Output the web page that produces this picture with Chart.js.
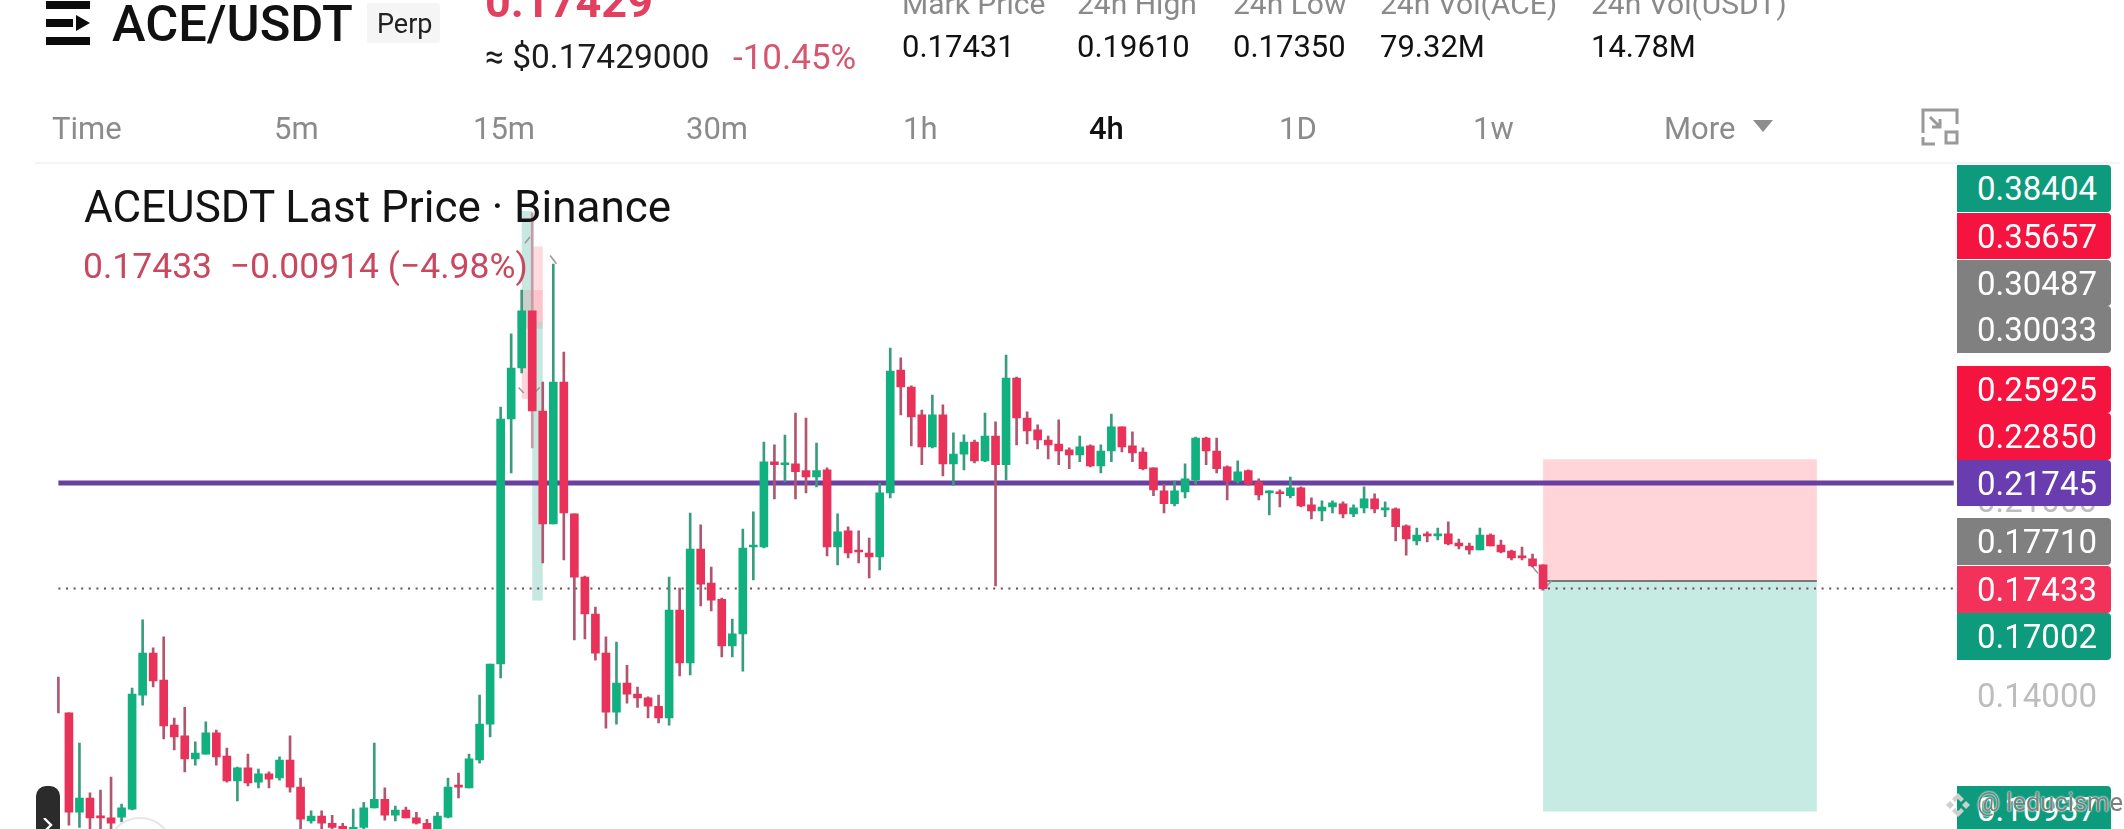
<!DOCTYPE html>
<html>
<head>
<meta charset="utf-8">
<title>ACE/USDT</title>
<script src="https://cdn.jsdelivr.net/npm/chart.js@4/dist/chart.umd.min.js"></script>
<style>
  html, body { margin: 0; padding: 0; background: #fff; width: 2124px; height: 829px; overflow: hidden; }
  body { position: relative; font-family: Roboto, sans-serif; }
  canvas { position: absolute; left: 0; top: 0; }
  .t { position: absolute; white-space: pre; line-height: 1; transform: translateY(-50%); }
  .tag { position: absolute; left: 1957px; width: 154px; border-radius: 0 4px 4px 0; color: #fff; font-size: 33px; box-sizing: border-box; padding-left: 20px; display: flex; align-items: center; }
  .abs { position: absolute; }
</style>
</head>
<body>
<canvas id="chart" width="2124" height="829"></canvas>
<div id="overlay"></div>
<script>
const opens = [
  .1344,.1344,.1092,.1125,.1083,.1079,.1081,.1099,.1395,.1523,
  .1440,.1310,.1281,.1221,.1233,.1289,.1228,.1166,.1198,.1163,
  .1183,.1173,.1218,.1151,.1072,.1083,.1067,.1060,.1041,.1058,
  .1102,.1122,.1085,.1097,.1079,.1067,.1047,.1081,.1156,.1149,
  .1218,.1313,.1489,.2486,.2766,.3117,.2528,.1996,.2686,.2038,
  .1786,.1653,.1523,.1346,.1431,.1398,.1387,.1363,.1330,.1667,
  .1492,.1894,.1764,.1705,.1546,.1586,.1902,.1902,.2273,.2259,
  .2263,.2231,.2202,.2235,.1902,.1967,.1886,.1878,.1863,.2130,
  .2754,.2658,.2507,.2345,.2507,.2263,.2310,.2369,.2277,.2399,
  .2259,.2708,.2491,.2430,.2379,.2359,.2330,.2306,.2350,.2254,
  .2325,.2445,.2350,.2320,.2244,.2139,.2082,.2134,.2188,.2389,
  .2325,.2249,.2183,.2231,.2179,.2130,.2130,.2117,.2152,.2077,
  .2051,.2068,.2082,.2038,.2064,.2103,.2055,.2060,.1988,.1926,
  .1955,.1946,.1955,.1918,.1906,.1890,.1950,.1910,.1886,.1863,
  .1855,.1832
];
const highs = [
  .1449,.1344,.1262,.1137,.1144,.1175,.1111,.1416,.1633,.1540,
  .1576,.1330,.1360,.1265,.1319,.1297,.1249,.1200,.1233,.1195,
  .1188,.1226,.1281,.1173,.1095,.1095,.1085,.1067,.1099,.1115,
  .1262,.1149,.1106,.1104,.1092,.1076,.1092,.1173,.1185,.1233,
  .1395,.1489,.2549,.2970,.3256,.3826,.2686,.3438,.2860,.2038,
  .1790,.1677,.1576,.1559,.1485,.1419,.1390,.1395,.1786,.1745,
  .2042,.1992,.1824,.1709,.1636,.1975,.2047,.2369,.2355,.2404,
  .2517,.2491,.2364,.2244,.2038,.1984,.1967,.1938,.2174,.2884,
  .2825,.2664,.2533,.2614,.2560,.2415,.2405,.2379,.2517,.2471,
  .2842,.2714,.2523,.2456,.2399,.2481,.2340,.2399,.2355,.2355,
  .2512,.2445,.2420,.2340,.2244,.2170,.2183,.2263,.2394,.2394,
  .2389,.2254,.2277,.2235,.2193,.2139,.2143,.2202,.2157,.2108,
  .2095,.2095,.2090,.2077,.2157,.2126,.2090,.2064,.1992,.1979,
  .1963,.1979,.2005,.1934,.1918,.1979,.1955,.1930,.1890,.1902,
  .1874,.1832
];
const lows = [
  .1344,.1063,.1058,.1041,.1035,.1039,.1070,.1097,.1366,.1419,
  .1273,.1244,.1188,.1205,.1233,.1205,.1163,.1118,.1154,.1149,
  .1149,.1168,.1139,.1041,.1067,.1047,.1041,.1035,.1035,.1052,
  .1102,.1074,.1072,.1079,.1065,.1041,.1041,.1079,.1125,.1149,
  .1210,.1278,.1446,.2221,.2737,.2340,.1840,.1996,.1851,.1566,
  .1569,.1501,.1302,.1313,.1372,.1360,.1330,.1316,.1310,.1452,
  .1455,.1681,.1664,.1511,.1511,.1467,.1775,.1898,.2103,.2179,
  .2103,.2130,.2157,.1867,.1832,.1859,.1840,.1783,.1813,.2108,
  .2507,.2350,.2259,.2340,.2207,.2165,.2235,.2268,.2273,.1753,
  .2188,.2355,.2359,.2335,.2287,.2259,.2240,.2273,.2249,.2221,
  .2273,.2320,.2273,.2235,.2117,.2042,.2073,.2108,.2170,.2259,
  .2221,.2099,.2174,.2165,.2099,.2034,.2068,.2108,.2068,.2017,
  .2009,.2042,.2021,.2026,.2042,.2042,.2026,.1926,.1870,.1910,
  .1922,.1930,.1910,.1894,.1874,.1890,.1906,.1878,.1851,.1851,
  .1824,.1738
];
const closes = [
  .1344,.1092,.1125,.1079,.1079,.1067,.1102,.1398,.1523,.1437,
  .1308,.1278,.1221,.1236,.1289,.1226,.1166,.1198,.1161,.1183,
  .1170,.1218,.1151,.1076,.1083,.1067,.1058,.1052,.1058,.1102,
  .1122,.1085,.1097,.1079,.1067,.1047,.1083,.1151,.1151,.1221,
  .1313,.1489,.2486,.2766,.3117,.2528,.1996,.2686,.2042,.1786,
  .1653,.1523,.1346,.1431,.1398,.1387,.1363,.1330,.1667,.1492,
  .1894,.1760,.1702,.1546,.1586,.1898,.1910,.2273,.2259,.2268,
  .2226,.2202,.2231,.1902,.1963,.1878,.1882,.1863,.2130,.2748,
  .2658,.2497,.2345,.2507,.2263,.2310,.2369,.2277,.2399,.2259,
  .2708,.2491,.2425,.2379,.2355,.2325,.2306,.2345,.2254,.2325,
  .2445,.2345,.2315,.2240,.2143,.2082,.2139,.2193,.2389,.2325,
  .2240,.2183,.2226,.2170,.2121,.2134,.2126,.2152,.2073,.2051,
  .2068,.2086,.2038,.2064,.2103,.2060,.2064,.1984,.1934,.1950,
  .1946,.1955,.1914,.1906,.1890,.1950,.1906,.1882,.1859,.1859,
  .1828,.17433
];

const srLevel = 0.21745;
const lastPrice = 0.17433;

// position tools: first/last candle slot, top, entry, bottom price
const mainTool = { from: 141, to: 167, top: 0.22850, entry: 0.17710, bottom: 0.10937 };
const longTool = { from: 44, to: 45, top: 0.38404, entry: 0.30033, bottom: 0.25925 };
const shortTool = { from: 45, to: 46, top: 0.35657, entry: 0.30487, bottom: 0.17002 };
const thirdBox = { from: 44, to: 46, top: 0.3256, bottom: 0.30033 };

// small grey handles of the tools: slot, price, slot, price
const toolHandles = [
  [139.7, 0.1840, 140.5, 0.1800],
  [141.1, 0.1742, 141.8, 0.1771],
  [43.7, 0.2655, 44.2, 0.2625],
  [45.2, 0.2625, 45.7, 0.2655],
  [46.7, 0.3500, 47.3, 0.3440],
  [44.3, 0.3590, 44.8, 0.3640]
];

// axis tags: text, colour
const tagTexts = ["0.38404","0.35657","0.30487","0.30033","0.25925","0.22850","0.21745","0.17710","0.17433","0.17002","0.10937"];
const tagColors = ["#0e9b7d","#f5143f","#808080","#808080","#f5143f","#f5143f","#693db0","#808080","#f2325a","#0e9b7d","#0e9b7d"];
const tagTops = [165,213,260,306,366,413,460,518,566,613,786];
const tagHeights = [47,46,46,47,47,47,46,47,47,47,47];

const tabNames = ["Time","5m","15m","30m","1h","4h","1D","1w","More"];
const tabLefts = [52,274,473,686,903,1089,1279,1473,1664];
const statNames = ["Mark Price","24h High","24h Low","24h Vol(ACE)","24h Vol(USDT)"];
const statValues = ["0.17431","0.19610","0.17350","79.32M","14.78M"];
const statLefts = [902,1077,1233,1380,1591];

const GREEN = "#10b07f";
const RED = "#e8325a";
const GREEN_WICK = "#3a9c7e";
const RED_WICK = "#b0566e";
const FADED_WICK = "#c79aa4";   // the spike wick reads paler behind the tool boxes
const fadedWickSlot = 45;

// empty slots on the right so the level lines run up to the axis
const slotCount = 181;
const labels = Array.from({ length: slotCount }, (_, i) => String(i));

function candleColor(i, up, down) {
  return closes[i] > opens[i] ? up : down;
}

const bodies = opens.map((o, i) => (o === closes[i] ? null : [o, closes[i]]));
const wicks = lows.map((l, i) => [l, highs[i]]);

const toolsPlugin = {
  id: "tools",
  beforeDatasetsDraw(chart) {
    const { ctx, scales: { x, y } } = chart;
    function box(from, to, top, bottom, color) {
      const x0 = x.getPixelForValue(from);
      const x1 = x.getPixelForValue(to);
      const y0 = y.getPixelForValue(top);
      const y1 = y.getPixelForValue(bottom);
      ctx.fillStyle = color;
      ctx.fillRect(x0, y0, x1 - x0, y1 - y0);
    }
    ctx.save();
    box(mainTool.from, mainTool.to, mainTool.top, mainTool.entry, "#ffd5d9");
    box(mainTool.from, mainTool.to, mainTool.entry, mainTool.bottom, "#c6ebe3");
    box(longTool.from, longTool.to, longTool.top, longTool.entry, "rgba(15,160,130,.24)");
    box(longTool.from, longTool.to, longTool.entry, longTool.bottom, "rgba(245,60,85,.22)");
    box(shortTool.from, shortTool.to, shortTool.top, shortTool.entry, "rgba(245,60,85,.18)");
    box(shortTool.from, shortTool.to, shortTool.entry, shortTool.bottom, "rgba(15,160,130,.24)");
    box(thirdBox.from, thirdBox.to, thirdBox.top, thirdBox.bottom, "rgba(245,60,85,.14)");

    ctx.strokeStyle = "#777";
    ctx.lineWidth = 2;
    ctx.beginPath();
    ctx.moveTo(x.getPixelForValue(mainTool.from), y.getPixelForValue(mainTool.entry));
    ctx.lineTo(x.getPixelForValue(mainTool.to), y.getPixelForValue(mainTool.entry));
    ctx.stroke();

    ctx.strokeStyle = "#999";
    ctx.lineWidth = 1.5;
    for (const h of toolHandles) {
      ctx.beginPath();
      ctx.moveTo(x.getPixelForValue(h[0]), y.getPixelForValue(h[1]));
      ctx.lineTo(x.getPixelForValue(h[2]), y.getPixelForValue(h[3]));
      ctx.stroke();
    }
    ctx.restore();
  }
};

new Chart(document.getElementById("chart"), {
  type: "bar",
  data: {
    labels,
    datasets: [
      {
        label: "body",
        data: bodies,
        order: 0,
        grouped: false,
        barThickness: 8,
        minBarLength: 2,
        backgroundColor: opens.map((_, i) => candleColor(i, GREEN, RED))
      },
      {
        label: "wick",
        data: wicks,
        order: 1,
        grouped: false,
        barThickness: 2,
        backgroundColor: opens.map((_, i) => (i === fadedWickSlot ? FADED_WICK : candleColor(i, GREEN_WICK, RED_WICK)))
      },
      {
        type: "line",
        label: "level",
        data: labels.map(() => srLevel),
        order: 3,
        borderColor: "#693f9f",
        borderWidth: 5,
        pointRadius: 0
      },
      {
        type: "line",
        label: "last",
        data: labels.map(() => lastPrice),
        order: 2,
        borderColor: "#6e4a55",
        borderWidth: 2,
        borderDash: [2, 5.6],
        pointRadius: 0
      }
    ]
  },
  options: {
    responsive: false,
    animation: false,
    layout: { padding: { left: 53.13, right: 165, top: 164, bottom: 0 } },
    plugins: { legend: { display: false }, tooltip: { enabled: false } },
    scales: {
      x: { display: false, offset: true, grid: { display: false } },
      y: { display: false, type: "logarithmic", min: 0.10543, max: 0.4238, grid: { display: false } }
    }
  },
  plugins: [toolsPlugin]
});

// page furniture around the chart
const overlay = document.getElementById("overlay");

function addText(text, left, centerY, size, color, weight) {
  const el = document.createElement("div");
  el.className = "t";
  el.textContent = text;
  el.style.left = left + "px";
  el.style.top = centerY + "px";
  el.style.fontSize = size + "px";
  el.style.color = color;
  if (weight) el.style.fontWeight = weight;
  overlay.appendChild(el);
  return el;
}

function addHtml(html) {
  const el = document.createElement("div");
  el.innerHTML = html;
  overlay.appendChild(el);
}

// header
addHtml(`<svg class="abs" style="left:46px;top:0" width="46" height="46" viewBox="0 0 46 46">
  <rect x="0" y="1" width="44" height="8" fill="#0b0b0b"/>
  <rect x="0" y="19" width="27" height="8" fill="#0b0b0b"/>
  <path d="M30 15 L44 23 L30 31 Z" fill="#0b0b0b"/>
  <rect x="0" y="37" width="44" height="8" fill="#0b0b0b"/></svg>`);
addText("ACE/USDT", 112, 24, 50.6, "#111", 500);
addHtml(`<div class="abs" style="left:367px;top:3px;width:73px;height:40px;background:#f5f5f5;border-radius:3px"></div>`);
addText("Perp", 377, 24, 27, "#222");
addText("0.17429", 485, 1, 45, "#e2405f", 700);
addText("≈ $0.17429000", 485, 57, 33.5, "#1c1c1c");
addText("-10.45%", 733, 57, 35, "#d5566f");
statNames.forEach((s, i) => addText(s, statLefts[i], 4, 30, "#8a8a8a"));
statValues.forEach((s, i) => addText(s, statLefts[i], 46, 31, "#111"));

// toolbar
tabNames.forEach((s, i) => addText(s, tabLefts[i], 128, 31, s === "4h" ? "#111" : "#8b8b8b", s === "4h" ? 500 : 400));
addHtml(`<svg class="abs" style="left:1753px;top:119px" width="21" height="14"><path d="M0 1 L20 1 L10 13 Z" fill="#8e8e8e"/></svg>`);
addHtml(`<svg class="abs" style="left:1921px;top:108px" width="38" height="38" viewBox="0 0 38 38" fill="none" stroke="#9a9a9a" stroke-width="3">
  <path d="M2 25 V2 H36 V16"/><path d="M2 29 V36 H14"/><rect x="25" y="24" width="11" height="11"/>
  <path d="M9 9 L19 19 M19 11 V19 H11"/></svg>`);
addHtml(`<div class="abs" style="left:35px;top:162px;width:2085px;height:2px;background:#f4f4f4"></div>`);

// legend of the chart
addText("ACEUSDT Last Price · Binance", 84, 207, 44, "#131313");
addText("0.17433  −0.00914 (−4.98%)", 83, 267, 35.5, "#c9485f");

// axis
addText("0.21000", 1977, 500, 33, "#bdbdbd");
addText("0.14000", 1977, 695, 33, "#bdbdbd");
tagTexts.forEach((s, i) => {
  const el = document.createElement("div");
  el.className = "tag";
  el.textContent = s;
  el.style.top = tagTops[i] + "px";
  el.style.height = tagHeights[i] + "px";
  el.style.background = tagColors[i];
  overlay.appendChild(el);
});

// side handle, faint circle and watermark
addHtml(`<div class="abs" style="left:36px;top:786px;width:24px;height:60px;background:#2b2b2b;border-radius:10px"></div>
  <svg class="abs" style="left:42px;top:818px" width="12" height="14"><path d="M2 0 L9 7 L2 14" fill="none" stroke="#fff" stroke-width="2.4"/></svg>
  <div class="abs" style="left:106px;top:817px;width:64px;height:64px;border:2px solid #e6e6e6;border-radius:50%"></div>`);
addHtml(`<svg class="abs" style="left:1943px;top:793px" width="30" height="24" viewBox="0 0 30 24" fill="#cfcfcf">
  <path d="M15 0 L21 6 L18 9 L15 6 L12 9 L9 6 Z M15 24 L9 18 L12 15 L15 18 L18 15 L21 18 Z M3 12 L7 8 L11 12 L7 16 Z M19 12 L23 8 L27 12 L23 16 Z"/></svg>`);
const mark = addText("@ leducisme", 1977, 803, 25.5, "rgba(120,120,120,.95)");
mark.style.textShadow = "0 0 2px #fff, 0 0 2px #fff";
</script>
</body>
</html>
